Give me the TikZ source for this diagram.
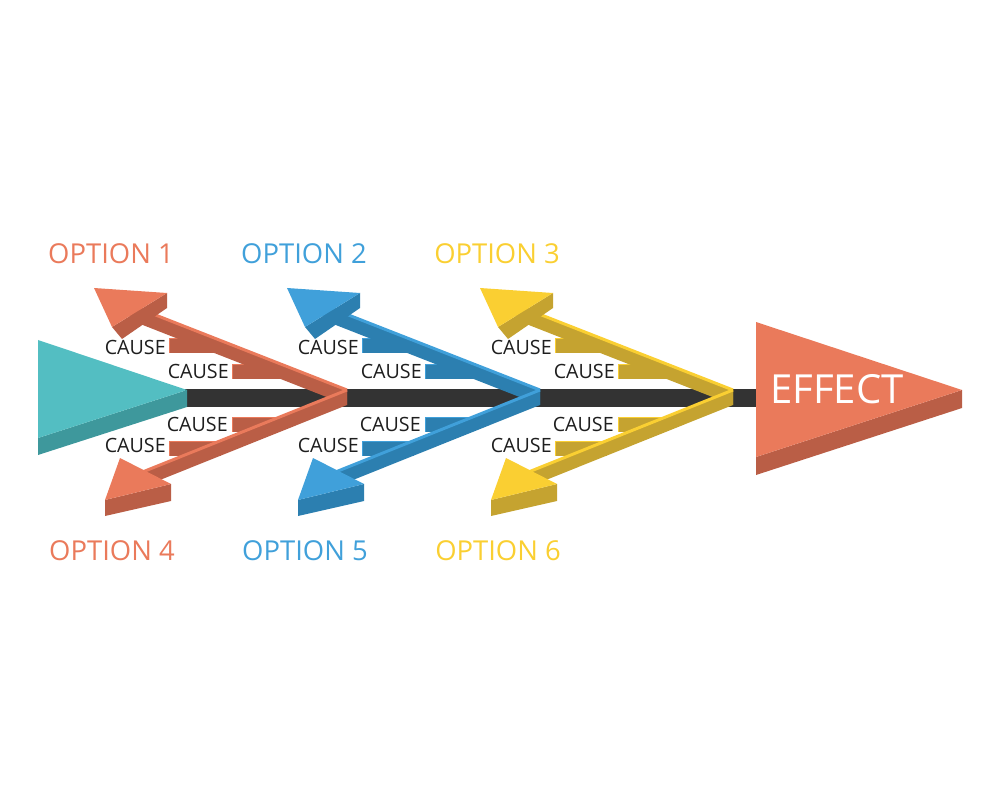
\documentclass[tikz,border=0pt]{standalone}
\usepackage{fontspec}
\setmainfont{Open Sans}
\usepackage{xcolor}
\usepackage{tikz}
\definecolor{RedL}{RGB}{234,122,91}
\definecolor{RedD}{RGB}{186,94,70}
\definecolor{BlueL}{RGB}{64,160,218}
\definecolor{BlueD}{RGB}{44,127,176}
\definecolor{YelL}{RGB}{250,207,50}
\definecolor{YelD}{RGB}{197,163,48}
\definecolor{TealL}{RGB}{83,190,194}
\definecolor{TealD}{RGB}{62,152,156}
\definecolor{Spine}{RGB}{51,51,51}
\definecolor{Ink}{RGB}{30,30,30}
\newcommand{\causefont}{\fontsize{14}{16}\selectfont}
\newcommand{\optionfont}{\fontsize{19.5}{22}\selectfont}
\newcommand{\effectfont}{\fontsize{28.5}{32}\selectfont}
\tikzset{
  lightedge/.style ={draw=#1, line width=2.1pt, line cap=butt},
  thinedge/.style  ={draw=#1, line width=0.7pt},
  causetext/.style ={font=\causefont, text=Ink, inner sep=0pt, anchor=east},
  optiontext/.style={font=\optionfont, inner sep=0pt},
}

% one coloured bone: #1 tag, #2 x shift, #3 light, #4 dark, #5 top label, #6 bottom label
\newcommand{\fishgroup}[6]{%
\begin{scope}[shift={(#2,0)}]
  % cause bars
  \fill[#4] (169,338) rectangle (216,353);
  \fill[#4] (232,364) rectangle (280,379);
  \fill[#4] (232,417) rectangle (280,432);
  \fill[#4] (169,441) rectangle (221,456);
  \draw[thinedge=#3] (216,338) -- (169,338) -- (169,353);
  \draw[thinedge=#3] (280,364) -- (232,364) -- (232,379);
  \draw[thinedge=#3] (280,417) -- (232,417) -- (232,432);
  \draw[thinedge=#3] (221,441) -- (169,441) -- (169,456);
  % upper arm
  \fill[#4] (130,305) -- (347,390) -- (347,405) -- (130,320) -- cycle;
  \draw[lightedge=#3] (130,305) -- (347,390);
  % lower arm
  \fill[#4] (347,390) -- (135,475) -- (135,490) -- (347,405) -- cycle;
  \draw[lightedge=#3] (347,390) -- (135,475);
  % arrow heads
  \fill[#4] (167,293) -- (112,327) -- (122,339) -- (167,308) -- cycle;
  \fill[#3] (94,288) -- (167,293) -- (112,327) -- cycle;
  \fill[#4] (171,484) -- (105,500) -- (105,516) -- (171,501) -- cycle;
  \fill[#3] (120,458) -- (171,484) -- (105,500) -- cycle;
  % texts
  \node[causetext] (cause-#1-a) at (166,347) {CAUSE};
  \node[causetext] (cause-#1-b) at (229,371) {CAUSE};
  \node[causetext] (cause-#1-c) at (228,424) {CAUSE};
  \node[causetext] (cause-#1-d) at (166,445) {CAUSE};
  \node[optiontext, text=#3] (opt-#1-top) at (111,254) {#5};
  \node[optiontext, text=#3] (opt-#1-bot) at (112,551) {#6};
\end{scope}}

\begin{document}
\begin{tikzpicture}[x=0.025cm, y=-0.025cm, line join=round]

\useasboundingbox (0,0) rectangle (1000,800);

% --- Spine ---------------------------------------------------------------
\fill[Spine] (185,389) rectangle (757,407);

% --- Bones ---------------------------------------------------------------
\fishgroup{r}{0}{RedL}{RedD}{OPTION 1}{OPTION 4}
\fishgroup{b}{193}{BlueL}{BlueD}{OPTION 2}{OPTION 5}
\fishgroup{y}{386}{YelL}{YelD}{OPTION 3}{OPTION 6}

% --- Tail (teal) -----------------------------------------------------------
\fill[TealD] (38,438) -- (187,390) -- (187,407) -- (38,455) -- cycle;
\fill[TealL] (38,340) -- (187,390) -- (38,438) -- cycle;

% --- Head: effect ----------------------------------------------------------
\fill[RedD] (756,457) -- (962,390) -- (962,408) -- (756,475) -- cycle;
\fill[RedL] (756,322) -- (962,390) -- (756,457) -- cycle;
\node[font=\effectfont, text=white, inner sep=0pt] (effect) at (837,389) {EFFECT};

\end{tikzpicture}
\end{document}
